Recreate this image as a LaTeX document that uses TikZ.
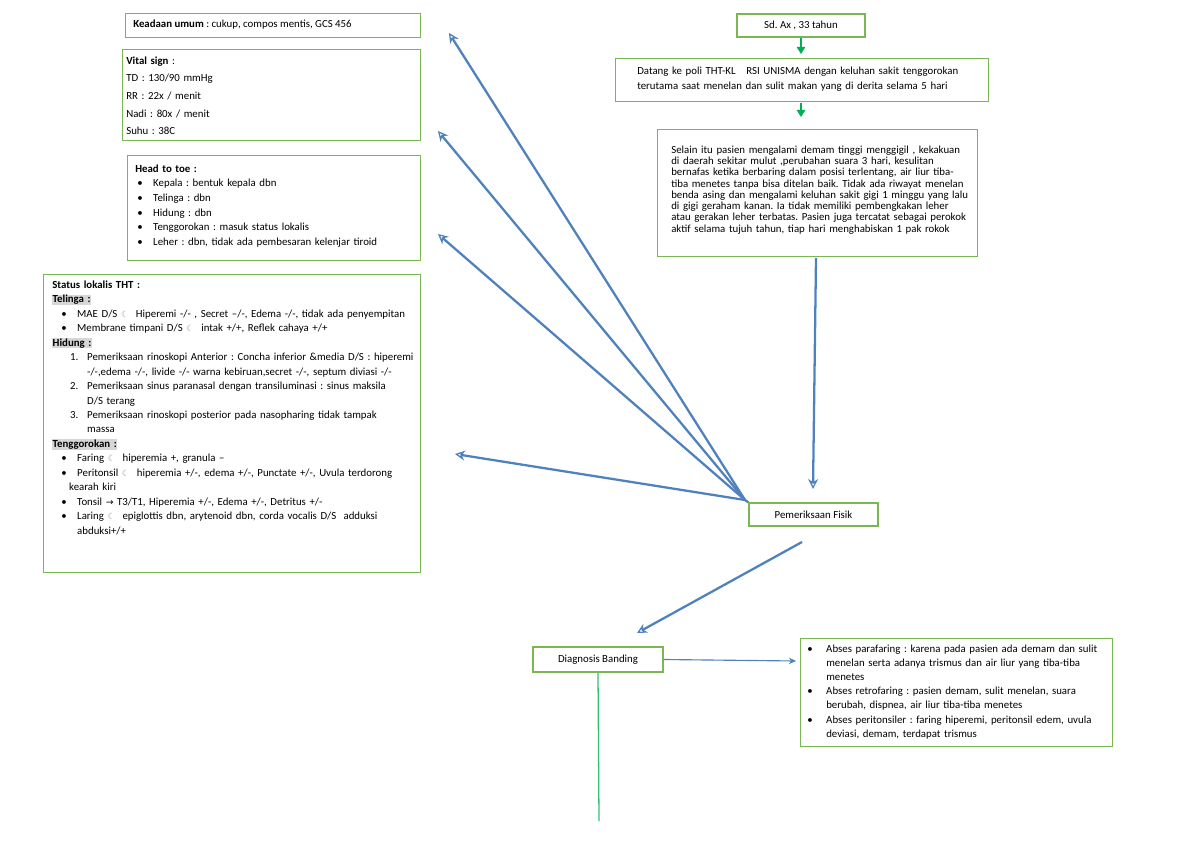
\documentclass[tikz,border=0pt]{standalone}
\usepackage{fontspec}
\setmainfont{Carlito}
\newfontfamily\djv{DejaVu Sans}
\usetikzlibrary{arrows.meta}
\definecolor{gframe}{RGB}{122,182,82}
\definecolor{barrow}{RGB}{79,129,189}
\definecolor{garrow}{RGB}{0,176,80}
\definecolor{hlgray}{RGB}{214,214,214}
\newcommand\moon{{\djv\color{black!40}\fontsize{6}{6}\selectfont ☾}}
\newcommand\rarr{{\djv\fontsize{6.5}{6.5}\selectfont →}}
\newcommand\hlt[1]{{\setlength\fboxsep{0.3pt}\colorbox{hlgray}{\textbf{#1}}}}
\newcommand\fl{\rule{0pt}{6pt}}
\newcommand\bl[3]{\hspace*{#1}\makebox[#2][l]{•}#3}
\frenchspacing
\begin{document}
\frenchspacing
\begin{tikzpicture}[x=0.7017pt,y=-0.7017pt,
  gb/.style={draw=gframe, line width=1pt, fill=white, inner sep=0pt},
  txt/.style={inner sep=0pt, anchor=north west, align=left},
  blarrow/.style={draw=barrow, line width=1.6pt, -{Stealth[open,length=7pt,width=7pt,line width=0.9pt]}},
  grarrow/.style={draw=garrow, line width=1pt, -{Triangle[length=5pt,width=6pt]}}]
\useasboundingbox (0,0) rectangle (1200,848);
\fontsize{7.6}{10}\selectfont
% boxes
\node[gb, anchor=north west, minimum width={295*0.7017pt}, minimum height={24*0.7017pt}] (ku) at (125,13) {};
\node[gb, anchor=north west, minimum width={298*0.7017pt}, minimum height={91*0.7017pt}] (vs) at (122,49) {};
\node[gb, anchor=north west, minimum width={293*0.7017pt}, minimum height={105*0.7017pt}] (htt) at (127,155) {};
\node[gb, anchor=north west, minimum width={377*0.7017pt}, minimum height={298*0.7017pt}] (sl) at (43,274) {};
\node[gb, minimum width={128*0.7017pt}, minimum height={23*0.7017pt}] (sd) at (801,25.5) {Sd. Ax , 33 tahun};
\node[gb, anchor=north west, minimum width={373*0.7017pt}, minimum height={43*0.7017pt}] (dt) at (615,58) {};
\node[gb, anchor=north west, minimum width={320*0.7017pt}, minimum height={127*0.7017pt}] (sel) at (657,129) {};
\node[gb, minimum width={129*0.7017pt}, minimum height={23*0.7017pt}] (pf) at (813.5,514.5) {Pemeriksaan Fisik};
\node[gb, minimum width={130*0.7017pt}, minimum height={25*0.7017pt}] (db) at (598,659.5) {Diagnosis Banding};
\node[gb, anchor=north west, minimum width={312*0.7017pt}, minimum height={108*0.7017pt}] (ab) at (800,638) {};
% texts
\node[inner sep=0pt, anchor=base west] (kut) at (133,28) {\textbf{Keadaan umum} : cukup, compos mentis, GCS 456};
\node[txt, text width=300pt, font=\fontsize{7.6}{12.35}\selectfont] (vst) at (126,55.45) {\fl\textbf{Vital sign} :\\TD : 130/90 mmHg\\RR : 22x / menit\\Nadi : 80x / menit\\Suhu : 38C};
\node[txt, text width=300pt, font=\fontsize{7.6}{10.25}\selectfont] (httt) at (135,163.45) {\fl\textbf{Head to toe :}\\
\bl{1.4pt}{11.2pt}{Kepala : bentuk kepala dbn}\\
\bl{1.4pt}{11.2pt}{Telinga : dbn}\\
\bl{1.4pt}{11.2pt}{Hidung : dbn}\\
\bl{1.4pt}{11.2pt}{Tenggorokan : masuk status lokalis}\\
\bl{1.4pt}{11.2pt}{Leher : dbn, tidak ada pembesaran kelenjar tiroid}};
\node[txt, text width=400pt, font=\fontsize{7.6}{10.15}\selectfont] (slt) at (52,279.45) {\fl\textbf{Status lokalis THT :}\\
\hlt{Telinga :}\\
\bl{6.3pt}{11.2pt}{MAE D/S \moon\ \ Hiperemi -/- , Secret –/-, Edema -/-, tidak ada penyempitan}\\
\bl{6.3pt}{11.2pt}{Membrane timpani D/S \moon\ \ intak +/+, Reflek cahaya +/+}\\
\hlt{Hidung :}\\
\hspace*{12.6pt}\makebox[11.9pt][l]{1.}Pemeriksaan rinoskopi Anterior : Concha inferior \&media D/S : hiperemi\\
\hspace*{24.5pt}-/-,edema -/-, livide -/- warna kebiruan,secret -/-, septum diviasi -/-\\
\hspace*{12.6pt}\makebox[11.9pt][l]{2.}Pemeriksaan sinus paranasal dengan transiluminasi : sinus maksila\\
\hspace*{24.5pt}D/S terang\\
\hspace*{12.6pt}\makebox[11.9pt][l]{3.}Pemeriksaan rinoskopi posterior pada nasopharing tidak tampak\\
\hspace*{24.5pt}massa\\
\hlt{Tenggorokan :}\\
\bl{6.3pt}{11.2pt}{Faring \moon\ \ hiperemia +, granula –}\\
\bl{6.3pt}{11.2pt}{Peritonsil \moon\ \ hiperemia +/-, edema +/-, Punctate +/-, Uvula terdorong}\\
\hspace*{11.9pt}kearah kiri\\
\bl{6.3pt}{11.2pt}{Tonsil \rarr\ T3/T1, Hiperemia +/-, Edema +/-, Detritus +/-}\\
\bl{6.3pt}{11.2pt}{Laring \moon\ \ epiglottis dbn, arytenoid dbn, corda vocalis D/S \ adduksi}\\
\hspace*{17.5pt}abduksi+/+};
\node[txt, text width=350pt, font=\fontsize{7.6}{10.3}\selectfont] (dtt) at (637,66) {\fl Datang ke poli THT-KL \ \ RSI UNISMA dengan keluhan sakit tenggorokan\\terutama saat menelan dan sulit makan yang di derita selama 5 hari};
\node[txt, text width=209.1pt, font=\fontsize{7.6}{7.9}\selectfont] (selt) at (671,144.5) {\fl
\makebox[209.1pt][s]{Selain itu pasien mengalami demam tinggi menggigil , kekakuan}\\
\makebox[209.1pt][s]{di daerah sekitar mulut ,perubahan suara 3 hari, kesulitan}\\
\makebox[209.1pt][s]{bernafas ketika berbaring dalam posisi terlentang, air liur tiba-}\\
\makebox[209.1pt][s]{tiba menetes tanpa bisa ditelan baik. Tidak ada riwayat menelan}\\
\makebox[209.1pt][s]{benda asing dan mengalami keluhan sakit gigi 1 minggu yang lalu}\\
\makebox[209.1pt][s]{di gigi geraham kanan. Ia tidak memiliki pembengkakan leher}\\
\makebox[209.1pt][s]{atau gerakan leher terbatas. Pasien juga tercatat sebagai perokok}\\
aktif selama tujuh tahun, tiap hari menghabiskan 1 pak rokok};
\node[txt, text width=300pt, font=\fontsize{7.6}{9.85}\selectfont] (abt) at (807,644) {\fl
\bl{0pt}{13.3pt}{Abses parafaring : karena pada pasien ada demam dan sulit}\\
\hspace*{13.3pt}menelan serta adanya trismus dan air liur yang tiba-tiba\\
\hspace*{13.3pt}menetes\\
\bl{0pt}{13.3pt}{Abses retrofaring : pasien demam, sulit menelan, suara}\\
\hspace*{13.3pt}berubah, dispnea, air liur tiba-tiba menetes\\
\bl{0pt}{13.3pt}{Abses peritonsiler : faring hiperemi, peritonsil edem, uvula}\\
\hspace*{13.3pt}deviasi, demam, terdapat trismus};
% coordinates
\coordinate (g1a) at (801,38);
\coordinate (g1b) at (801,54);
\coordinate (g2a) at (801,103);
\coordinate (g2b) at (801,117);
\coordinate (vtop) at (816,258);
\coordinate (vbot) at (813,489);
\coordinate (fan) at (745,500);
\coordinate (t1) at (449,33);
\coordinate (t2) at (438,131);
\coordinate (t3) at (438,234);
\coordinate (t4) at (455,454);
\coordinate (da) at (802,542);
\coordinate (dbb) at (637,633);
\coordinate (abtip) at (796,661);
\coordinate (gend) at (599,821);
% connectors
\draw[grarrow] (g1a) -- (g1b);
\draw[grarrow] (g2a) -- (g2b);
\draw[blarrow] (vtop) -- (vbot);
\draw[blarrow] (fan) -- (t1);
\draw[blarrow] (fan) -- (t2);
\draw[blarrow] (fan) -- (t3);
\draw[blarrow] (fan) -- (t4);
\draw[barrow, line width=1.6pt] (fan) -- (pf.north west);
\draw[blarrow] (da) -- (dbb);
\draw[barrow, line width=0.8pt, -{Stealth[length=5pt,width=4.5pt]}] (db.east) -- (abtip);
\draw[draw=garrow!80!white, line width=0.9pt] (db.south) -- (gend);
\end{tikzpicture}
\end{document}
